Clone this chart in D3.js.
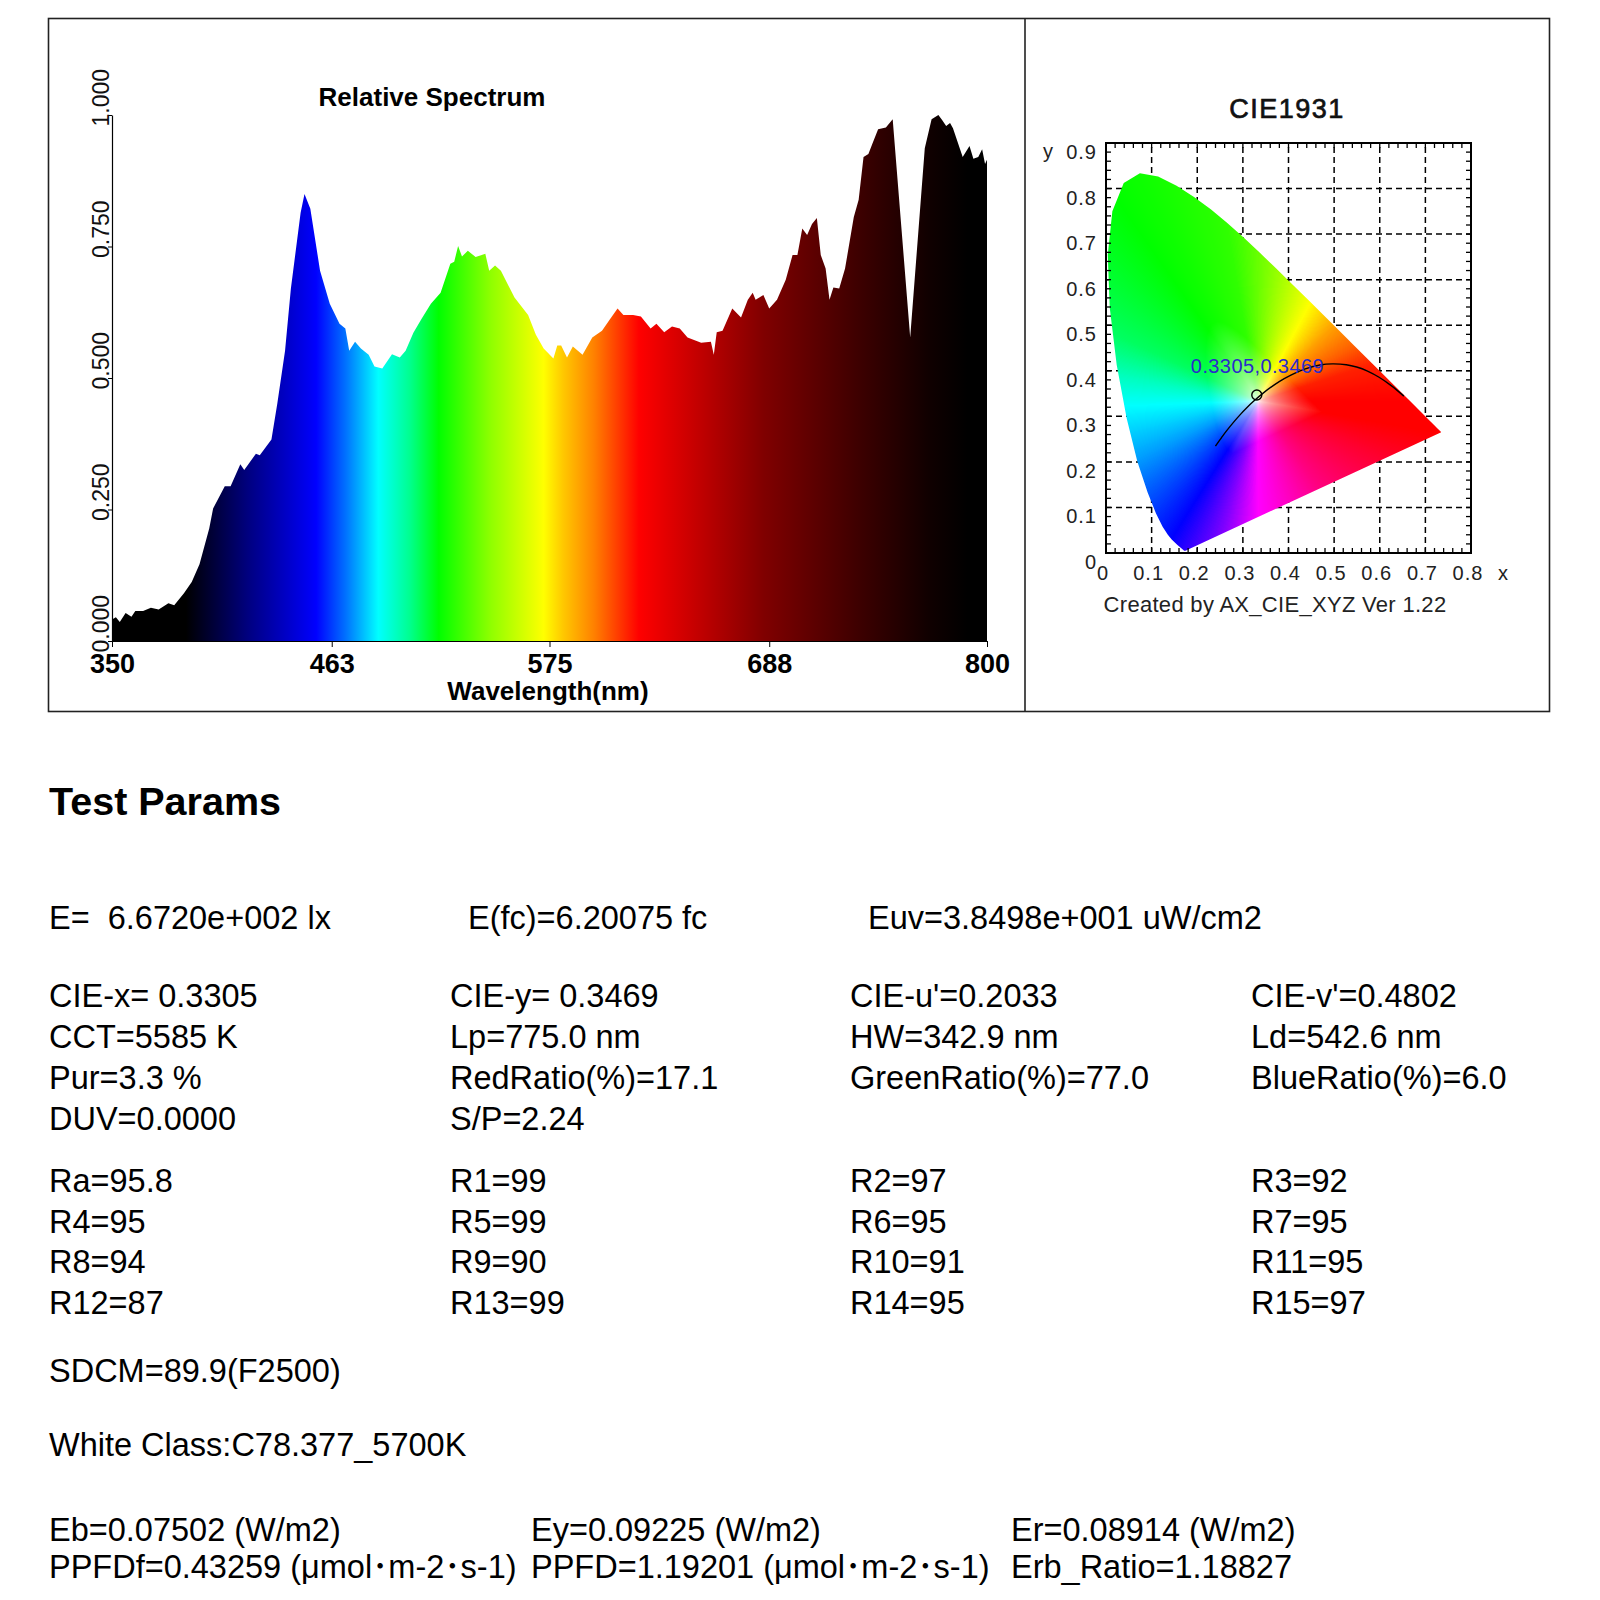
<!DOCTYPE html>
<html>
<head>
<meta charset="utf-8">
<script src="https://cdn.jsdelivr.net/npm/d3@7"></script>
<style>
  body { margin: 0; background: #fff; }
  svg text { font-family: "Liberation Sans", Arial, "Noto Sans CJK JP", sans-serif; white-space: pre; }
</style>
</head>
<body>
<script>
// ---- relative spectrum ----
const wavelengths = [350, 352, 354, 357, 360, 362, 366, 370, 374, 379, 382, 387, 391, 395, 400, 402, 408, 411, 416, 418,
  424, 426, 432, 435, 439, 442, 447, 449, 452, 457, 462, 467, 470, 472, 475, 478, 482, 485, 489, 494,
  498, 501, 505, 509, 514, 519, 524, 526, 528, 530, 533, 537, 542, 544, 547, 550, 557, 564, 568, 572,
  577, 579, 581, 584, 587, 592, 597, 602, 606, 610, 613, 618, 622, 627, 630, 634, 638, 642, 646, 653,
  658, 659.5, 661, 664, 669, 673.5, 677, 679.5, 681, 685, 688, 692, 696.5, 700, 702.5, 705, 707.5, 710, 712.5, 714.5,
  717, 719, 721, 724, 727, 731.5, 734, 736.5, 739, 741, 744, 748, 751.5, 760.5, 768, 771.5, 775, 777, 779, 781,
  782.5, 787.5, 791, 793, 795.5, 797.5, 799, 800];
const relValues = [0.041, 0.045, 0.036, 0.053, 0.046, 0.057, 0.057, 0.063, 0.060, 0.072, 0.068, 0.091, 0.112, 0.146, 0.214, 0.252, 0.294, 0.294, 0.336, 0.325,
  0.356, 0.353, 0.383, 0.451, 0.552, 0.670, 0.814, 0.850, 0.822, 0.704, 0.641, 0.603, 0.594, 0.552, 0.569, 0.556, 0.544, 0.522, 0.518, 0.545,
  0.539, 0.552, 0.586, 0.611, 0.641, 0.662, 0.717, 0.721, 0.751, 0.731, 0.742, 0.730, 0.736, 0.704, 0.714, 0.704, 0.653, 0.620, 0.582, 0.556,
  0.537, 0.562, 0.562, 0.539, 0.560, 0.544, 0.577, 0.590, 0.611, 0.632, 0.620, 0.620, 0.617, 0.594, 0.603, 0.587, 0.598, 0.594, 0.577, 0.567,
  0.569, 0.544, 0.587, 0.590, 0.632, 0.615, 0.649, 0.662, 0.649, 0.658, 0.632, 0.649, 0.687, 0.734, 0.734, 0.784, 0.772, 0.793, 0.804, 0.734,
  0.708, 0.649, 0.672, 0.670, 0.708, 0.806, 0.839, 0.920, 0.926, 0.945, 0.973, 0.976, 0.992, 0.577, 0.937, 0.992, 1.000, 0.990, 0.979, 0.985,
  0.975, 0.920, 0.941, 0.917, 0.920, 0.935, 0.907, 0.915];

// colours of the spectrum fill
const stopNm = [350, 388, 400, 420, 440, 455, 470, 487, 503, 518, 545, 572, 582, 598, 621, 685, 735, 770, 790, 800];
const stopColors = ["#000000", "#000000", "#000030", "#000080", "#0000c8", "#0000ff", "#0070ff", "#00ffff", "#00ff90", "#00ff00",
  "#90ff00", "#ffff00", "#ffc800", "#ff8000", "#ff0000", "#800000", "#3c0000", "#100000", "#000000", "#000000"];

const specXTicks = [350, 463, 575, 688, 800];
const specYTicks = [0, 0.25, 0.5, 0.75, 1];

// ---- CIE 1931 ----
const locusX = [0.1741, 0.1738, 0.1733, 0.1726, 0.1714, 0.1689, 0.1644, 0.1566, 0.1440, 0.1355, 0.1241, 0.1096, 0.0913, 0.0687, 0.0454,
  0.0235, 0.0082, 0.0039, 0.0139, 0.0389, 0.0743, 0.1142, 0.1547, 0.1929, 0.2296, 0.2658, 0.3016, 0.3373, 0.3731, 0.4087,
  0.4441, 0.4788, 0.5125, 0.5448, 0.5752, 0.6029, 0.6270, 0.6658, 0.6915, 0.7079, 0.7190, 0.7260, 0.7300, 0.7334, 0.7347];
const locusY = [0.0050, 0.0049, 0.0048, 0.0048, 0.0051, 0.0069, 0.0109, 0.0177, 0.0297, 0.0399, 0.0578, 0.0868, 0.1327, 0.2007, 0.2950,
  0.4127, 0.5384, 0.6548, 0.7502, 0.8120, 0.8338, 0.8262, 0.8059, 0.7816, 0.7543, 0.7243, 0.6923, 0.6589, 0.6245, 0.5896,
  0.5547, 0.5202, 0.4866, 0.4544, 0.4242, 0.3965, 0.3725, 0.3340, 0.3083, 0.2920, 0.2809, 0.2740, 0.2700, 0.2666, 0.2653];

const planckX = [0.6528, 0.6251, 0.5985, 0.5732, 0.5493, 0.5267, 0.4962, 0.4691, 0.4369, 0.4053, 0.3805, 0.3451, 0.3221, 0.3064, 0.2952, 0.2807, 0.2637, 0.2525, 0.2399];
const planckY = [0.3444, 0.3674, 0.3858, 0.3993, 0.4082, 0.4133, 0.4152, 0.4128, 0.4041, 0.3907, 0.3768, 0.3516, 0.3318, 0.3166, 0.3048, 0.2884, 0.2674, 0.2522, 0.2348];

const pointX = 0.3305;
const pointY = 0.3469;

// hue around the white point, by angle (degrees)
const hueAngles = [0, 18, 30, 45, 62, 80, 100, 125, 155, 170, 182, 205, 225, 238, 255, 270, 305, 335, 350, 360];
const hueColors = ["#ff0000", "#ff2000", "#ff6000", "#ffa000", "#ffff00", "#a0ff00", "#30ff00", "#00ff00", "#00ff60", "#00ffc0",
  "#00ffff", "#00a0ff", "#0040ff", "#0000ff", "#8000ff", "#ff00ff", "#ff0080", "#ff0030", "#ff0000", "#ff0000"];

const cieXTicks = [0, 0.1, 0.2, 0.3, 0.4, 0.5, 0.6, 0.7, 0.8];
const cieYTicks = [0, 0.1, 0.2, 0.3, 0.4, 0.5, 0.6, 0.7, 0.8, 0.9];

// ---- test params ----
const illumRow = ["E=  6.6720e+002 lx", "E(fc)=6.20075 fc", "Euv=3.8498e+001 uW/cm2"];
const colorRows = [
  ["CIE-x= 0.3305", "CIE-y= 0.3469", "CIE-u'=0.2033", "CIE-v'=0.4802"],
  ["CCT=5585 K", "Lp=775.0 nm", "HW=342.9 nm", "Ld=542.6 nm"],
  ["Pur=3.3 %", "RedRatio(%)=17.1", "GreenRatio(%)=77.0", "BlueRatio(%)=6.0"],
  ["DUV=0.0000", "S/P=2.24", "", ""]
];
const renderRows = [
  ["Ra=95.8", "R1=99", "R2=97", "R3=92"],
  ["R4=95", "R5=99", "R6=95", "R7=95"],
  ["R8=94", "R9=90", "R10=91", "R11=95"],
  ["R12=87", "R13=99", "R14=95", "R15=97"]
];
const sdcmText = "SDCM=89.9(F2500)";
const whiteClassText = "White Class:C78.377_5700K";
const radRows = [
  ["Eb=0.07502 (W/m2)", "Ey=0.09225 (W/m2)", "Er=0.08914 (W/m2)"],
  ["PPFDf=0.43259 (μmol\uFF65m-2\uFF65s-1)", "PPFD=1.19201 (μmol\uFF65m-2\uFF65s-1)", "Erb_Ratio=1.18827"]
];

/////////////////////////

const svg = d3.select("body").append("svg")
  .attr("width", 1600)
  .attr("height", 1600);
svg.append("rect").attr("width", 1600).attr("height", 1600).attr("fill", "#fff");
const defs = svg.append("defs");

// outer frame + divider
svg.append("rect")
  .attr("x", 48.5).attr("y", 18.5).attr("width", 1501).attr("height", 693)
  .attr("fill", "none").attr("stroke", "#222").attr("stroke-width", 1.6);
svg.append("line")
  .attr("x1", 1025).attr("x2", 1025).attr("y1", 18).attr("y2", 712)
  .attr("stroke", "#222").attr("stroke-width", 1.6);

// ===== spectrum =====
const sx = d3.scaleLinear().domain([350, 800]).range([112, 987]);
const sy = d3.scaleLinear().domain([0, 1]).range([641, 115]);

const grad = defs.append("linearGradient")
  .attr("id", "specGrad")
  .attr("gradientUnits", "userSpaceOnUse")
  .attr("x1", sx(350)).attr("x2", sx(800)).attr("y1", 0).attr("y2", 0);
grad.selectAll("stop")
  .data(stopNm)
  .join("stop")
  .attr("offset", d => (d - 350) / 450)
  .attr("stop-color", (d, i) => stopColors[i]);

const specData = wavelengths.map((w, i) => [w, relValues[i]]);
const area = d3.area()
  .x(d => sx(d[0]))
  .y0(sy(0))
  .y1(d => sy(d[1]));
svg.append("path")
  .datum(specData)
  .attr("d", area)
  .attr("fill", "url(#specGrad)");

// axes
const xAxis = d3.axisBottom(sx).tickValues(specXTicks).tickSize(6).tickSizeOuter(0).tickFormat(d3.format("d"));
const gx = svg.append("g").attr("transform", `translate(0,${sy(0)})`).call(xAxis);
gx.select(".domain").attr("stroke", "#000").attr("stroke-width", 1.2);
gx.selectAll(".tick line").attr("stroke", "#000");
gx.selectAll(".tick text")
  .attr("y", 32).attr("dy", null)
  .attr("fill", "#000")
  .style("font-size", "27px").style("font-weight", "bold")
  .style("font-family", "'Liberation Sans', Arial, sans-serif");

const yAxis = d3.axisLeft(sy).tickValues(specYTicks).tickSize(4).tickSizeOuter(0).tickFormat(d3.format(".3f"));
const gy = svg.append("g").attr("transform", `translate(${sx(350)},0)`).call(yAxis);
gy.select(".domain").attr("stroke", "#000").attr("stroke-width", 1.2);
gy.selectAll(".tick line").attr("stroke", "#000");
gy.selectAll(".tick text")
  .attr("x", null).attr("dy", null)
  .attr("text-anchor", "start")
  .attr("transform", "translate(-3,11) rotate(-90)")
  .attr("fill", "#111")
  .style("font-size", "23px")
  .style("font-family", "'Liberation Sans', Arial, sans-serif");

svg.append("text")
  .attr("x", 432).attr("y", 106)
  .attr("text-anchor", "middle")
  .style("font-size", "26px").style("font-weight", "bold")
  .text("Relative Spectrum");

svg.append("text")
  .attr("x", 548).attr("y", 700)
  .attr("text-anchor", "middle")
  .style("font-size", "26px").style("font-weight", "bold")
  .text("Wavelength(nm)");

// ===== CIE 1931 =====
const cx = d3.scaleLinear().domain([0, 0.8]).range([1106, 1471]);
const cy = d3.scaleLinear().domain([0, 0.9]).range([553, 143]);

svg.append("text")
  .attr("x", 1287).attr("y", 118)
  .attr("text-anchor", "middle")
  .attr("fill", "#111")
  .attr("stroke", "#111").attr("stroke-width", 0.7)
  .style("font-size", "27px").style("letter-spacing", "1.5px")
  .text("CIE1931");

// dashed grid
const gridG = svg.append("g").attr("stroke", "#000").attr("stroke-width", 1.5).attr("stroke-dasharray", "6,4");
gridG.selectAll("line.gx")
  .data(cieXTicks.slice(1, -1))
  .join("line").attr("class", "gx")
  .attr("x1", d => cx(d)).attr("x2", d => cx(d))
  .attr("y1", cy(0)).attr("y2", cy(0.9));
gridG.selectAll("line.gy")
  .data(cieYTicks.slice(1, -1))
  .join("line").attr("class", "gy")
  .attr("x1", cx(0)).attr("x2", cx(0.8))
  .attr("y1", d => cy(d)).attr("y2", d => cy(d));

// chromaticity fill rendered pixel by pixel, clipped to the spectral locus
const locusPts = locusX.map((x, i) => [x, locusY[i]]);
const whiteX = 0.3333, whiteY = 0.3333;
const rMax = [];
for (let k = 0; k < 720; k++) {
  const a = (k / 2) * Math.PI / 180;
  const dx = Math.cos(a), dy = Math.sin(a);
  let best = Infinity;
  for (let i = 0; i < locusPts.length; i++) {
    const p = locusPts[i], q = locusPts[(i + 1) % locusPts.length];
    const ex = q[0] - p[0], ey = q[1] - p[1];
    const den = dx * ey - dy * ex;
    if (Math.abs(den) < 1e-12) continue;
    const wx = p[0] - whiteX, wy = p[1] - whiteY;
    const t = (wx * ey - wy * ex) / den;
    const u = (wx * dy - wy * dx) / den;
    if (t > 0 && u >= 0 && u <= 1 && t < best) best = t;
  }
  rMax.push(best);
}
const hueScale = d3.scaleLinear().domain(hueAngles).range(hueColors);
const hueRGB = d3.range(720).map(k => d3.rgb(hueScale(k / 2)));

const cw = Math.round(cx(0.8) - cx(0)), ch = Math.round(cy(0) - cy(0.9));
const canvas = document.createElement("canvas");
canvas.width = cw; canvas.height = ch;
const ctx = canvas.getContext("2d");
const img = ctx.createImageData(cw, ch);
for (let j = 0; j < ch; j++) {
  const yv = cy.invert(cy(0.9) + j + 0.5);
  for (let i = 0; i < cw; i++) {
    const xv = cx.invert(cx(0) + i + 0.5);
    const dx = xv - whiteX, dy = yv - whiteY;
    let ang = Math.atan2(dy, dx) * 180 / Math.PI;
    if (ang < 0) ang += 360;
    const k = Math.round(ang * 2) % 720;
    const s = Math.sqrt(dx * dx + dy * dy) / rMax[k];
    const t = Math.pow(Math.min(1, s / 0.35), 0.6);
    const c = hueRGB[k];
    const o = (j * cw + i) * 4;
    img.data[o] = 255 * (1 - t) + c.r * t;
    img.data[o + 1] = 255 * (1 - t) + c.g * t;
    img.data[o + 2] = 255 * (1 - t) + c.b * t;
    img.data[o + 3] = 255;
  }
}
ctx.putImageData(img, 0, 0);

const locusLine = d3.line().x(d => cx(d[0])).y(d => cy(d[1]));
defs.append("clipPath").attr("id", "locusClip")
  .append("path").attr("d", locusLine(locusPts) + "Z");
svg.append("image")
  .attr("x", cx(0)).attr("y", cy(0.9))
  .attr("width", cw).attr("height", ch)
  .attr("preserveAspectRatio", "none")
  .attr("href", canvas.toDataURL())
  .attr("clip-path", "url(#locusClip)");

// box and inward minor ticks
svg.append("rect")
  .attr("x", cx(0)).attr("y", cy(0.9))
  .attr("width", cx(0.8) - cx(0)).attr("height", cy(0) - cy(0.9))
  .attr("fill", "none").attr("stroke", "#000").attr("stroke-width", 2);
const minorX = d3.range(0.02, 0.8, 0.02);
const minorY = d3.range(0.02, 0.9, 0.02);
const tickG = svg.append("g").attr("stroke", "#000").attr("stroke-width", 1.3);
tickG.selectAll("line.tb")
  .data(minorX)
  .join("line").attr("class", "tb")
  .attr("x1", d => cx(d)).attr("x2", d => cx(d))
  .attr("y1", cy(0)).attr("y2", cy(0) - 5);
tickG.selectAll("line.tt")
  .data(minorX)
  .join("line").attr("class", "tt")
  .attr("x1", d => cx(d)).attr("x2", d => cx(d))
  .attr("y1", cy(0.9)).attr("y2", cy(0.9) + 5);
tickG.selectAll("line.tl")
  .data(minorY)
  .join("line").attr("class", "tl")
  .attr("x1", cx(0)).attr("x2", cx(0) + 5)
  .attr("y1", d => cy(d)).attr("y2", d => cy(d));
tickG.selectAll("line.tr")
  .data(minorY)
  .join("line").attr("class", "tr")
  .attr("x1", cx(0.8)).attr("x2", cx(0.8) - 5)
  .attr("y1", d => cy(d)).attr("y2", d => cy(d));

// Planckian locus and the measured point
const planckPts = planckX.map((x, i) => [x, planckY[i]]);
svg.append("path")
  .datum(planckPts)
  .attr("d", d3.line().x(d => cx(d[0])).y(d => cy(d[1])).curve(d3.curveCatmullRom))
  .attr("fill", "none").attr("stroke", "#000").attr("stroke-width", 1.4);
svg.append("circle")
  .attr("cx", cx(pointX)).attr("cy", cy(pointY)).attr("r", 5)
  .attr("fill", "none").attr("stroke", "#000").attr("stroke-width", 1.4);
svg.append("text")
  .attr("x", cx(0.186)).attr("y", cy(0.395))
  .attr("fill", "#2a2acc")
  .style("font-size", "20px").style("letter-spacing", "0.4px")
  .text(`${pointX},${pointY}`);

// tick labels
const cieFmt = d => d === 0 ? "0" : d3.format(".1f")(d);
svg.append("g").selectAll("text")
  .data(cieYTicks)
  .join("text")
  .attr("x", cx(0) - 9).attr("y", d => cy(d) + 16)
  .attr("text-anchor", "end")
  .attr("fill", "#222")
  .style("font-size", "20px").style("letter-spacing", "1px")
  .text(cieFmt);
svg.append("g").selectAll("text")
  .data(cieXTicks)
  .join("text")
  .attr("x", d => cx(d) - 3).attr("y", cy(0) + 27)
  .attr("text-anchor", "middle")
  .attr("fill", "#222")
  .style("font-size", "20px").style("letter-spacing", "1px")
  .text(cieFmt);
svg.append("text").attr("x", 1043).attr("y", 158).attr("fill", "#222")
  .style("font-size", "20px").text("y");
svg.append("text").attr("x", 1498).attr("y", 580).attr("fill", "#222")
  .style("font-size", "20px").text("x");
svg.append("text")
  .attr("x", 1275).attr("y", 612)
  .attr("text-anchor", "middle")
  .attr("fill", "#222")
  .style("font-size", "22px").style("letter-spacing", "0.3px")
  .text("Created by AX_CIE_XYZ Ver 1.22");

// ===== test params =====
svg.append("text")
  .attr("x", 49).attr("y", 815)
  .style("font-size", "39.5px").style("font-weight", "bold")
  .text("Test Params");

const bodySize = "32.5px";
function textRow(items, xs, y) {
  svg.append("g").selectAll("text")
    .data(items)
    .join("text")
    .attr("x", (d, i) => xs[i]).attr("y", y)
    .attr("fill", "#000")
    .style("font-size", bodySize)
    .text(d => d);
}
const col4 = [49, 450, 850, 1251];
const col3 = [49, 531, 1011];
textRow(illumRow, [49, 468, 868], 929);
colorRows.forEach((r, i) => textRow(r, col4, 1007 + i * 41));
renderRows.forEach((r, i) => textRow(r, col4, 1192 + i * 40.7));
textRow([sdcmText], [49], 1382);
textRow([whiteClassText], [49], 1456);
radRows.forEach((r, i) => textRow(r, col3, 1541 + i * 37));
</script>
</body>
</html>
